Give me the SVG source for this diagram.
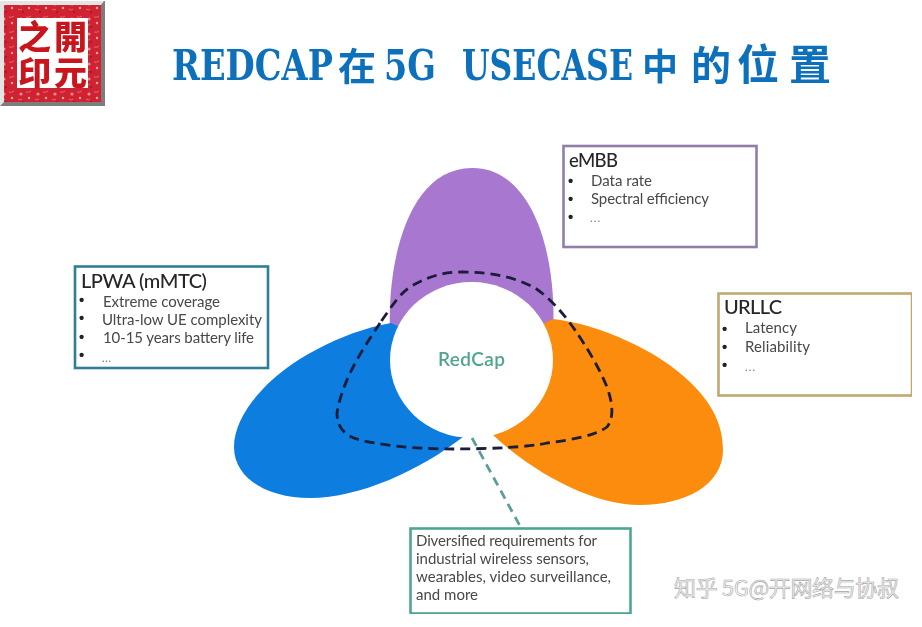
<svg xmlns="http://www.w3.org/2000/svg" width="922" height="627" viewBox="0 0 922 627">
<style>
.t{font-family:"Lato","Liberation Sans",sans-serif;fill:#484848;font-size:15px}
.h{font-size:20px;fill:#262626;font-weight:500}
.b{font-family:"Liberation Sans",sans-serif;fill:#222;font-size:15px;font-weight:bold}
.d{font-size:11px;fill:#777}
.box{fill:#fff;stroke-width:2.6}
.title{font-family:"DejaVu Serif","Noto Sans CJK SC",serif;font-weight:bold;fill:#0f6fba}
.cj{font-family:"Noto Sans CJK SC",sans-serif;font-weight:700}
.seal{font-family:"Noto Sans CJK TC","Noto Sans CJK SC",sans-serif;font-weight:900;fill:#c8141e;font-size:33px}
</style>
<defs>
<pattern id="tex" width="17" height="15" patternUnits="userSpaceOnUse">
<rect width="17" height="15" fill="#cf2430"/>
<circle cx="4" cy="4" r="1.6" fill="#ee8a90"/><circle cx="12" cy="8" r="1.2" fill="#f2a5a8"/><circle cx="6" cy="12" r="1" fill="#a8101c"/><path d="M9 2q3 1 5 -1M1 9q3 2 4 0" stroke="#e9686f" fill="none"/>
</pattern>
<filter id="soft" x="0" y="0" width="100%" height="100%"><feGaussianBlur stdDeviation="0.45"/></filter>
</defs>
<rect width="922" height="627" fill="#fff"/>
<g filter="url(#soft)">
<g id="logo">
<rect x="0" y="1" width="105" height="105" fill="#7d7d7d"/>
<path d="M0 1H104L101 5H4V102L0 106Z" fill="#e4e4e4"/>
<rect x="4" y="5" width="97" height="97" fill="url(#tex)"/>
<rect x="17" y="18" width="71" height="70" fill="#fff"/>
<text class="seal" x="18" y="49">之</text><text class="seal" x="54" y="49">開</text>
<text class="seal" x="18" y="85">印</text><text class="seal" x="54" y="85">元</text>
</g>
<g id="title">
<text class="title" font-size="42" y="80"><tspan x="172" textLength="161" lengthAdjust="spacingAndGlyphs">REDCAP</tspan><tspan class="cj" x="338" font-size="38">在</tspan><tspan x="384" textLength="52" lengthAdjust="spacingAndGlyphs">5G</tspan> <tspan x="462" textLength="171" lengthAdjust="spacingAndGlyphs">USECASE</tspan><tspan class="cj" x="642" font-size="36">中</tspan><tspan class="cj" x="691" font-size="40">的</tspan><tspan class="cj" x="737" font-size="42">位</tspan><tspan class="cj" x="789" font-size="42">置</tspan></text>
</g>
<g id="petals">
<path id="petal-embb" d="M390 332C387 262 408 168 472 168C536 168 557 262 553 332Z" fill="#a877cf"/>
<path id="petal-urllc" d="M553 319C600 324 660 352 690 382C712 403 723 425 723 450C723 485 685 505 640 505C590 505 530 470 493 435L471 360Z" fill="#fb8c0a"/>
<path id="petal-lpwa" d="M391 323C340 332 287 362 262 390C245 408 234 428 234 447C234 480 270 498 310 498C360 498 420 470 463 437L471 360Z" fill="#0a7de0"/>
<ellipse cx="471.5" cy="360" rx="81.5" ry="78" fill="#fff"/>
</g>
<g id="connectors">
<path d="M472 438L520 526" fill="none" stroke="#5d9f98" stroke-width="2.8" stroke-dasharray="9 6"/>
<path d="M380 323C370 339 343 375 337 413C337 428 345 436 360 440C390 447 425 449 453 449C490 449 530 447 547 443C570 440 595 436 607 427C614 418 613 404 607 387C598 365 585 345 577 333C565 315 550 298 535 288C515 277 490 272 463 272C440 272 425 278 410 287C400 294 394 303 380 323Z" fill="none" stroke="#1b1b3a" stroke-width="2.8" stroke-dasharray="10 6"/>
</g>
<g id="redcap"><text class="t" x="438" y="366" style="font-size:19px;fill:#4fa58e;font-weight:600" textLength="67">RedCap</text></g>
<g id="embb">
<rect class="box" x="563.5" y="146" width="193" height="101" stroke="#8f7fa8"/>
<text class="t h" x="569" y="167" style="font-size:18.500px" textLength="49">eMBB</text>
<text class="b" x="568" y="186">•</text><text class="t" x="591" y="186" textLength="61">Data rate</text>
<text class="b" x="568" y="204">•</text><text class="t" x="591" y="204" textLength="118">Spectral efficiency</text>
<text class="b" x="568" y="222">•</text><text class="t d" x="590" y="222" textLength="10">...</text>
</g>
<g id="lpwa">
<rect class="box" x="75" y="266.500" width="193" height="101.500" stroke="#2f7f96"/>
<text class="t h" x="81" y="288" textLength="126">LPWA (mMTC)</text>
<text class="b" x="79" y="305">•</text><text class="t" x="103" y="307" textLength="117">Extreme coverage</text>
<text class="b" x="79" y="323">•</text><text class="t" x="102" y="325" textLength="160">Ultra-low UE complexity</text>
<text class="b" x="79" y="342">•</text><text class="t" x="103" y="343" textLength="151">10-15 years battery life</text>
<text class="b" x="79" y="360">•</text><text class="t d" x="102" y="362" textLength="9">...</text>
</g>
<g id="urllc">
<rect class="box" x="718.500" y="293.500" width="193.500" height="102" stroke="#c2a873"/>
<text class="t h" x="724" y="314" textLength="58">URLLC</text>
<text class="b" x="722" y="334">•</text><text class="t" x="745" y="333" textLength="52">Latency</text>
<text class="b" x="722" y="352">•</text><text class="t" x="745" y="352" textLength="65">Reliability</text>
<text class="b" x="722" y="370">•</text><text class="t d" x="745" y="371" textLength="10">...</text>
</g>
<g id="note">
<rect class="box" x="410.500" y="528.500" width="220" height="85" stroke="#4fa591"/>
<text class="t" x="416" y="546" textLength="181">Diversified requirements for</text>
<text class="t" x="416" y="564" textLength="173">industrial wireless sensors,</text>
<text class="t" x="416" y="582" textLength="195">wearables, video surveillance,</text>
<text class="t" x="416" y="600" textLength="62">and more</text>
</g>
</g>
<g id="watermark"><text x="674" y="596" font-family="Noto Sans CJK SC,sans-serif" font-size="22" fill="#f4f4f4" stroke="#a8a8a8" stroke-width=".6" textLength="225">知乎 5G@开网络与协叔</text></g>
</svg>
